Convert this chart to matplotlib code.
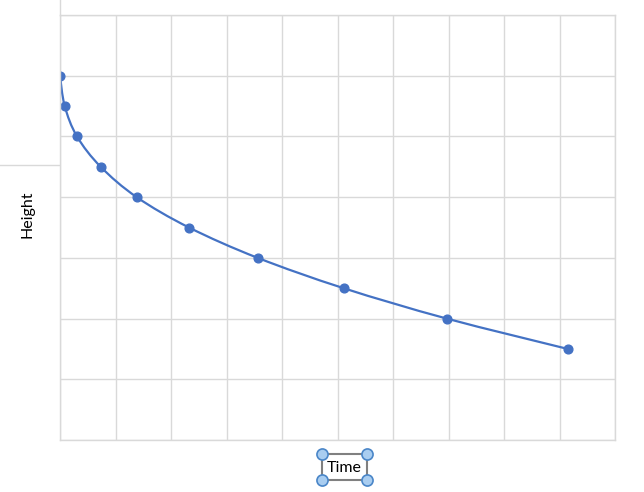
import matplotlib

matplotlib.use("Agg")
import matplotlib.pyplot as plt
from matplotlib.lines import Line2D
from matplotlib.patches import Rectangle, PathPatch
from matplotlib.path import Path

# values
time = [0.0, 0.085, 0.306, 0.733, 1.382, 2.324, 3.562, 5.112, 6.968, 9.148]
height = [6.0, 5.5, 5.0, 4.5, 4.0, 3.5, 3.0, 2.5, 2.0, 1.5]

x_max = 10
y_max = 7

W, H = 644, 492
BLUE = "#4472C4"
GRID = "#d9d9d9"


def fx(px):
    return px / W


def fy(py):
    return 1 - py / H


def smooth_path(xs, ys):
    # Catmull-Rom segments as cubic Bezier curves (like a spreadsheet "smoothed line")
    pts = list(zip(xs, ys))
    ext = [pts[0]] + pts + [pts[-1]]
    verts = [pts[0]]
    codes = [Path.MOVETO]
    for i in range(1, len(ext) - 2):
        p0, p1, p2, p3 = ext[i - 1], ext[i], ext[i + 1], ext[i + 2]
        c1 = (p1[0] + (p2[0] - p0[0]) / 6, p1[1] + (p2[1] - p0[1]) / 6)
        c2 = (p2[0] - (p3[0] - p1[0]) / 6, p2[1] - (p3[1] - p1[1]) / 6)
        verts += [c1, c2, p2]
        codes += [Path.CURVE4] * 3
    return Path(verts, codes)


fig = plt.figure(figsize=(W / 100, H / 100), dpi=100)
ax = fig.add_axes([fx(60), fy(440), (615 - 60) / W, (440 - 15) / H])

ax.set_xlim(0, x_max)
ax.set_ylim(0, y_max)
ax.set_xticks(range(0, x_max + 1))
ax.set_yticks(range(0, y_max + 1))
ax.tick_params(length=0, labelbottom=False, labelleft=False)
ax.grid(True, color=GRID, lw=1.0)
ax.set_axisbelow(True)
for s in ax.spines.values():
    s.set_color(GRID)
    s.set_linewidth(1.0)

ax.add_patch(PathPatch(smooth_path(time, height), fill=False, edgecolor=BLUE, lw=1.6))
ax.plot(time, height, ls="none", marker="o", ms=6.3, color=BLUE)

# stray chart-area lines from the spreadsheet view
fig.add_artist(Line2D([fx(60), fx(60)], [fy(0), fy(15)], color=GRID, lw=1.0))
fig.add_artist(Line2D([fx(0), fx(59)], [fy(165), fy(165)], color=GRID, lw=1.0))

fig.text(fx(27), fy(214), "Height", rotation=90, ha="center", va="center",
         fontsize=11.5, family="Lato")

# selected "Time" text box with handles
fig.add_artist(Rectangle((fx(322), fy(480)), (367 - 322) / W, (480 - 454) / H,
                         fill=False, edgecolor="#808080", lw=1.5))
fig.text(fx(344), fy(467.5), "Time", ha="center", va="center", fontsize=11.5, family="Lato")
for hx, hy in [(322, 454), (367, 454), (322, 480), (367, 480)]:
    fig.add_artist(Line2D([fx(hx)], [fy(hy)], ls="none", marker="o", ms=8,
                          markerfacecolor="#a9cdf0", markeredgecolor="#4a86c8",
                          markeredgewidth=1.2))

fig.savefig("out.png", dpi=100)
plt.close(fig)
